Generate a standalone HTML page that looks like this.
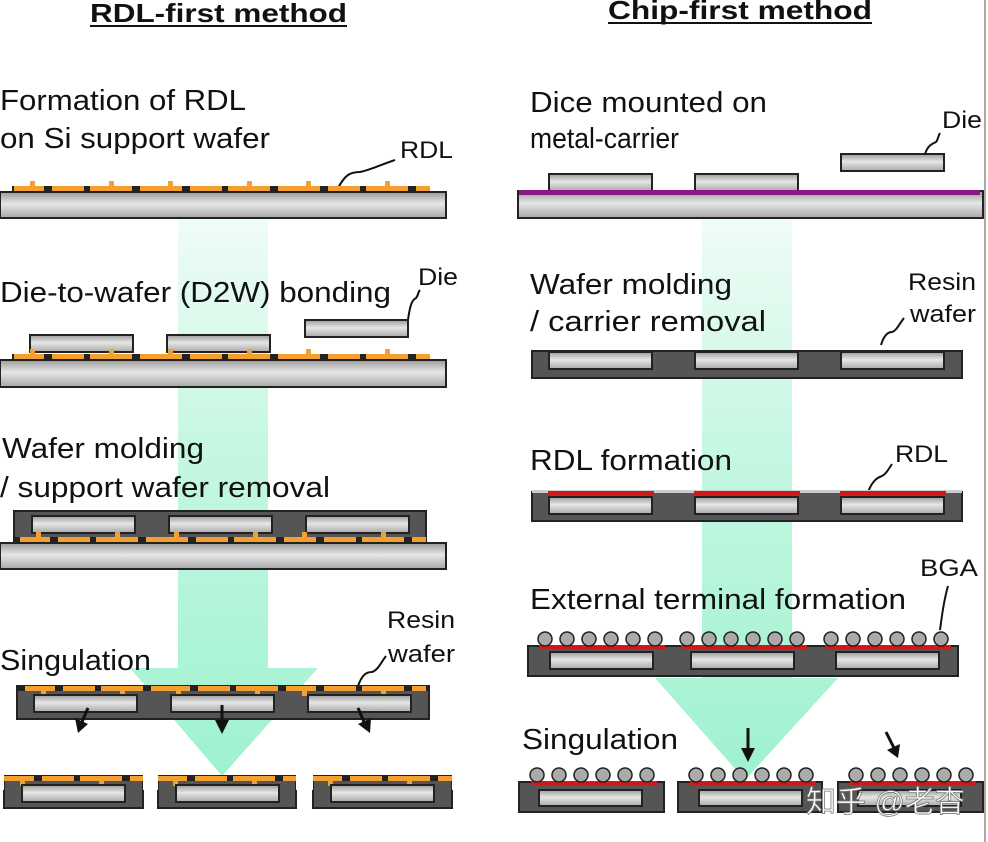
<!DOCTYPE html>
<html><head><meta charset="utf-8"><style>
html,body{margin:0;padding:0;background:#fff;}
svg{display:block;}
text{font-family:"Liberation Sans",Arial,sans-serif;fill:#111;}
</style></head><body>
<svg width="988" height="842" viewBox="0 0 988 842" xmlns="http://www.w3.org/2000/svg">
<defs>
<linearGradient id="g" x1="0" y1="0" x2="0" y2="1">
<stop offset="0" stop-color="#9a9a9a"/><stop offset="0.45" stop-color="#e6e6e6"/><stop offset="1" stop-color="#a8a8a8"/></linearGradient>
<linearGradient id="gr" x1="0" y1="0" x2="0" y2="1">
<stop offset="0" stop-color="#effcf6"/><stop offset="0.4" stop-color="#c6f7e2"/><stop offset="1" stop-color="#9ef2cf"/></linearGradient>
<g id="die"><rect x="0" y="0" width="103" height="17" fill="url(#g)" stroke="#222" stroke-width="2"/></g>
<g id="rdl">
<rect x="0" y="0" width="140" height="5" fill="#f3a030"/>
<rect x="30" y="0" width="8" height="5" fill="#222"/><rect x="70" y="0" width="6" height="5" fill="#222"/><rect x="118" y="0" width="8" height="5" fill="#222"/>
<rect x="16" y="-5" width="5" height="5" fill="#f3a030"/><rect x="95" y="-5" width="5" height="5" fill="#f3a030"/>
</g>
<g id="rdlb">
<rect x="0" y="0" width="140" height="5" fill="#f3a030"/>
<rect x="30" y="0" width="8" height="5" fill="#222"/><rect x="70" y="0" width="6" height="5" fill="#222"/><rect x="118" y="0" width="8" height="5" fill="#222"/>
<rect x="16" y="5" width="5" height="5" fill="#f3a030"/><rect x="95" y="5" width="5" height="5" fill="#f3a030"/>
</g>
<g id="balls">
<rect x="0" y="6" width="126" height="4" fill="#d01818"/>
<circle cx="6" cy="0" r="7" fill="#aaa" stroke="#222" stroke-width="1.5"/>
<circle cx="28" cy="0" r="7" fill="#aaa" stroke="#222" stroke-width="1.5"/>
<circle cx="50" cy="0" r="7" fill="#aaa" stroke="#222" stroke-width="1.5"/>
<circle cx="72" cy="0" r="7" fill="#aaa" stroke="#222" stroke-width="1.5"/>
<circle cx="94" cy="0" r="7" fill="#aaa" stroke="#222" stroke-width="1.5"/>
<circle cx="116" cy="0" r="7" fill="#aaa" stroke="#222" stroke-width="1.5"/>
</g>
</defs>

<path d="M178,220 H268 V668 H318 L222,776 L130,668 H178 Z" fill="url(#gr)"/>
<path d="M702,220 H792 V678 H838 L745,780 L655,678 H702 Z" fill="url(#gr)"/>

<line x1="985" y1="0" x2="985" y2="842" stroke="#aaa" stroke-width="2"/>

<text x="90" y="22" font-size="26" font-weight="bold" textLength="257" lengthAdjust="spacingAndGlyphs">RDL-first method</text>
<line x1="90" y1="26" x2="347" y2="26" stroke="#111" stroke-width="2"/>
<text x="608" y="19" font-size="26" font-weight="bold" textLength="264" lengthAdjust="spacingAndGlyphs">Chip-first method</text>
<line x1="608" y1="23" x2="872" y2="23" stroke="#111" stroke-width="2"/>

<!-- LEFT step 1 -->
<text x="0" y="110" font-size="29" textLength="246" lengthAdjust="spacingAndGlyphs">Formation of RDL</text>
<text x="0" y="148" font-size="29" textLength="270" lengthAdjust="spacingAndGlyphs">on Si support wafer</text>
<text x="400" y="158" font-size="24" textLength="53" lengthAdjust="spacingAndGlyphs">RDL</text>
<path d="M338,188 C345,175 350,172 360,172 C370,170 380,165 395,160" fill="none" stroke="#111" stroke-width="2"/>
<rect x="12" y="186" width="418" height="6" fill="#222"/>
<use href="#rdl" x="14" y="186"/><use href="#rdl" x="152" y="186"/><use href="#rdl" x="290" y="186"/>
<rect x="0" y="192" width="446" height="26" fill="url(#g)" stroke="#222" stroke-width="2"/>

<!-- LEFT step 2 -->
<text x="0" y="302" font-size="29" textLength="391" lengthAdjust="spacingAndGlyphs">Die-to-wafer (D2W) bonding</text>
<text x="418" y="285" font-size="24" textLength="40" lengthAdjust="spacingAndGlyphs">Die</text>
<path d="M408,320 C410,305 412,300 416,298 C418,296 418,292 420,290" fill="none" stroke="#111" stroke-width="2"/>
<use href="#die" x="305" y="320"/>
<use href="#die" x="30" y="335"/><use href="#die" x="167" y="335"/>
<rect x="12" y="354" width="418" height="6" fill="#222"/>
<use href="#rdl" x="14" y="354"/><use href="#rdl" x="152" y="354"/><use href="#rdl" x="290" y="354"/>
<rect x="0" y="360" width="446" height="27" fill="url(#g)" stroke="#222" stroke-width="2"/>

<!-- LEFT step 3 -->
<text x="2" y="458" font-size="29" textLength="202" lengthAdjust="spacingAndGlyphs">Wafer molding</text>
<text x="0" y="497" font-size="29" textLength="330" lengthAdjust="spacingAndGlyphs">/ support wafer removal</text>
<rect x="14" y="511" width="412" height="33" fill="#555" stroke="#222" stroke-width="2"/>
<use href="#die" x="32" y="516"/><use href="#die" x="169" y="516"/><use href="#die" x="306" y="516"/>
<rect x="14" y="537" width="412" height="6" fill="#222"/>
<use href="#rdl" x="20" y="537"/><use href="#rdl" x="158" y="537"/><use href="#rdl" x="286" y="537"/>
<rect x="0" y="543" width="446" height="26" fill="url(#g)" stroke="#222" stroke-width="2"/>

<!-- LEFT step 4 -->
<text x="0" y="670" font-size="29" textLength="151" lengthAdjust="spacingAndGlyphs">Singulation</text>
<text x="387" y="628" font-size="24" textLength="68" lengthAdjust="spacingAndGlyphs">Resin</text>
<text x="388" y="662" font-size="24" textLength="67" lengthAdjust="spacingAndGlyphs">wafer</text>
<path d="M358,686 C362,675 366,672 372,672 C378,670 380,664 386,656" fill="none" stroke="#111" stroke-width="2"/>
<rect x="17" y="686" width="412" height="33" fill="#555" stroke="#222" stroke-width="2"/>
<rect x="17" y="686" width="412" height="5" fill="#222"/>
<use href="#rdlb" x="25" y="686"/><use href="#rdlb" x="160" y="686"/><use href="#rdlb" x="286" y="686"/>
<use href="#die" x="34" y="695"/><use href="#die" x="171" y="695"/><use href="#die" x="308" y="695"/>
<g stroke="#111" stroke-width="3" fill="#111">
<line x1="88" y1="708" x2="82" y2="722"/><polygon points="75,718 88,724 78,733" stroke="none"/>
<line x1="222" y1="705" x2="222" y2="722"/><polygon points="215,720 229,720 222,734" stroke="none"/>
<line x1="358" y1="708" x2="364" y2="722"/><polygon points="358,724 371,718 370,733" stroke="none"/>
</g>
<rect x="4" y="776" width="139" height="32" fill="#555" stroke="#222" stroke-width="2"/>
<rect x="4" y="776" width="139" height="4" fill="#222"/><use href="#rdlb" x="4" y="776" transform="translate(0,0)"/>
<rect x="22" y="785" width="103" height="17" fill="url(#g)" stroke="#222" stroke-width="2"/>
<rect x="158" y="776" width="138" height="32" fill="#555" stroke="#222" stroke-width="2"/>
<rect x="158" y="776" width="138" height="4" fill="#222"/><use href="#rdlb" x="157" y="776"/>
<rect x="176" y="785" width="103" height="17" fill="url(#g)" stroke="#222" stroke-width="2"/>
<rect x="313" y="776" width="139" height="32" fill="#555" stroke="#222" stroke-width="2"/>
<rect x="313" y="776" width="139" height="4" fill="#222"/><use href="#rdlb" x="312" y="776"/>
<rect x="331" y="785" width="103" height="17" fill="url(#g)" stroke="#222" stroke-width="2"/>
<rect x="0" y="770" width="4" height="20" fill="#fff"/><rect x="143" y="770" width="15" height="20" fill="#fff"/><rect x="296" y="770" width="17" height="20" fill="#fff"/><rect x="452" y="770" width="10" height="20" fill="#fff"/>

<!-- RIGHT step 1 -->
<text x="530" y="112" font-size="29" textLength="237" lengthAdjust="spacingAndGlyphs">Dice mounted on</text>
<text x="530" y="148" font-size="29" textLength="149" lengthAdjust="spacingAndGlyphs">metal-carrier</text>
<text x="942" y="128" font-size="24" textLength="40" lengthAdjust="spacingAndGlyphs">Die</text>
<path d="M925,154 C928,145 932,144 936,142 C938,140 938,136 940,133" fill="none" stroke="#111" stroke-width="2"/>
<use href="#die" x="841" y="154"/>
<use href="#die" x="549" y="174"/><use href="#die" x="695" y="174"/>
<rect x="518" y="191" width="465" height="27" fill="url(#g)" stroke="#222" stroke-width="2"/>
<rect x="519" y="190" width="461" height="5" fill="#861a82"/>

<!-- RIGHT step 2 -->
<text x="530" y="294" font-size="29" textLength="202" lengthAdjust="spacingAndGlyphs">Wafer molding</text>
<text x="530" y="331" font-size="29" textLength="236" lengthAdjust="spacingAndGlyphs">/ carrier removal</text>
<text x="908" y="290" font-size="24" textLength="68" lengthAdjust="spacingAndGlyphs">Resin</text>
<text x="910" y="322" font-size="24" textLength="66" lengthAdjust="spacingAndGlyphs">wafer</text>
<path d="M881,345 C884,335 888,332 892,332 C896,331 898,326 904,318" fill="none" stroke="#111" stroke-width="2"/>
<rect x="532" y="351" width="430" height="27" fill="#555" stroke="#222" stroke-width="2"/>
<use href="#die" x="549" y="352"/><use href="#die" x="695" y="352"/><use href="#die" x="841" y="352"/>

<!-- RIGHT step 3 -->
<text x="530" y="470" font-size="29" textLength="202" lengthAdjust="spacingAndGlyphs">RDL formation</text>
<text x="895" y="462" font-size="24" textLength="53" lengthAdjust="spacingAndGlyphs">RDL</text>
<path d="M868,492 C872,482 876,478 882,476 C886,474 888,470 892,464" fill="none" stroke="#111" stroke-width="2"/>
<rect x="532" y="492" width="430" height="29" fill="#555" stroke="#222" stroke-width="2"/>
<rect x="532" y="490" width="430" height="3" fill="#ccc"/>
<rect x="548" y="491" width="106" height="4" fill="#d01818"/><rect x="694" y="491" width="106" height="4" fill="#d01818"/><rect x="840" y="491" width="106" height="4" fill="#d01818"/>
<use href="#die" x="549" y="497"/><use href="#die" x="695" y="497"/><use href="#die" x="841" y="497"/>

<!-- RIGHT step 4 -->
<text x="530" y="609" font-size="29" textLength="376" lengthAdjust="spacingAndGlyphs">External terminal formation</text>
<text x="920" y="576" font-size="24" textLength="58" lengthAdjust="spacingAndGlyphs">BGA</text>
<path d="M940,630 C942,615 944,600 948,586" fill="none" stroke="#111" stroke-width="2"/>
<rect x="528" y="646" width="430" height="30" fill="#555" stroke="#222" stroke-width="2"/>
<use href="#balls" x="539" y="639"/><use href="#balls" x="681" y="639"/><use href="#balls" x="825" y="639"/>
<use href="#die" x="550" y="652"/><use href="#die" x="691" y="652"/><use href="#die" x="836" y="652"/>

<!-- RIGHT step 5 -->
<text x="522" y="749" font-size="29" textLength="156" lengthAdjust="spacingAndGlyphs">Singulation</text>
<g stroke="#111" stroke-width="3" fill="#111">
<line x1="748" y1="728" x2="748" y2="750"/><polygon points="741,748 755,748 748,762" stroke="none"/>
<line x1="886" y1="732" x2="894" y2="748"/><polygon points="887,750 900,744 898,758" stroke="none"/>
</g>
<rect x="519" y="782" width="145" height="30" fill="#555" stroke="#222" stroke-width="2"/>
<use href="#balls" x="531" y="775"/>
<rect x="539" y="790" width="103" height="16" fill="url(#g)" stroke="#222" stroke-width="2"/>
<rect x="678" y="782" width="144" height="30" fill="#555" stroke="#222" stroke-width="2"/>
<use href="#balls" x="690" y="775"/>
<rect x="699" y="790" width="103" height="16" fill="url(#g)" stroke="#222" stroke-width="2"/>
<rect x="838" y="782" width="145" height="30" fill="#555" stroke="#222" stroke-width="2"/>
<use href="#balls" x="850" y="775"/>
<rect x="858" y="790" width="103" height="16" fill="url(#g)" stroke="#222" stroke-width="2"/>

<text x="806" y="812" font-size="30" style="font-family:'Liberation Sans','Noto Sans CJK SC',sans-serif;fill:#fff;stroke:#777;stroke-width:0.8">知乎 @老杳</text>
</svg>
</body></html>
